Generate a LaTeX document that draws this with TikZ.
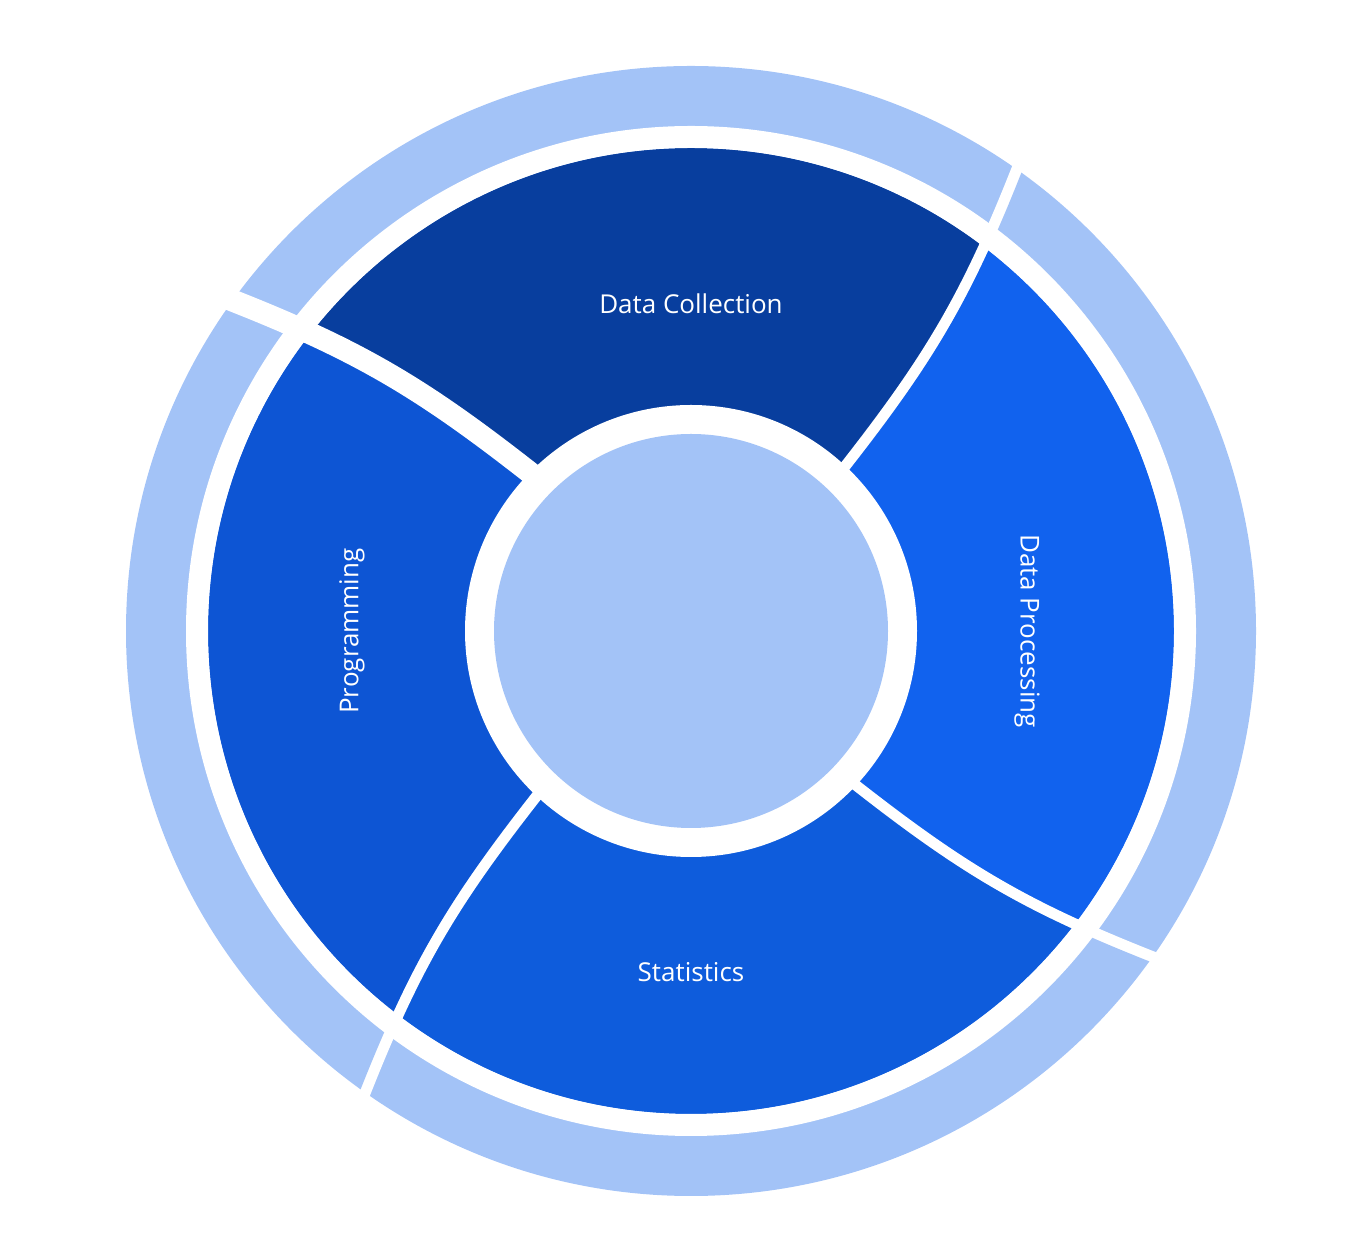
\documentclass[tikz,border=0pt]{standalone}
\usepackage{fontspec}
\setmainfont{Open Sans}
\definecolor{light}{RGB}{163,195,247}
\definecolor{cDC}{RGB}{8,62,158}
\definecolor{cDP}{RGB}{17,98,238}
\definecolor{cST}{RGB}{14,92,220}
\definecolor{cPR}{RGB}{13,85,212}
\tikzset{lbl/.style={text=white,font=\fontsize{26}{30}\selectfont},
 divider/.style={white,line width=22}}
\begin{document}
\begin{tikzpicture}[x=1pt,y=1pt]
\useasboundingbox (0,0) rectangle (1358,1250);
\begin{scope}[shift={(691,619)}]
\foreach \r/\c in {0/cDC,-90/cDP,-180/cST,-270/cPR}{
 \begin{scope}[rotate=\r]
 \begin{scope}
  \clip (0,0) -- (45:210) .. controls (48:380) and (50:450) .. (56:640) -- (100:900)
   -- (146:640) .. controls (140:450) and (138:380) .. (135:210) -- cycle;
  \fill[light] (0,0) circle (565);
  \fill[\c] (0,0) circle (483);
 \end{scope}
 \draw[divider] (45:210) .. controls (48:380) and (50:450) .. (56:640);
 \end{scope}}
\draw[white,line width=22] (0,0) circle (494);
\fill[white] (0,0) circle (226);
\fill[light] (0,0) circle (197);
\node[lbl] (dc) at (0,327) {Data Collection};
\node[lbl,rotate=-90] (dp) at (336,0) {Data Processing};
\node[lbl] (st) at (0,-341) {Statistics};
\node[lbl,rotate=90] (pr) at (-339,0) {Programming};
\end{scope}
\end{tikzpicture}
\end{document}
